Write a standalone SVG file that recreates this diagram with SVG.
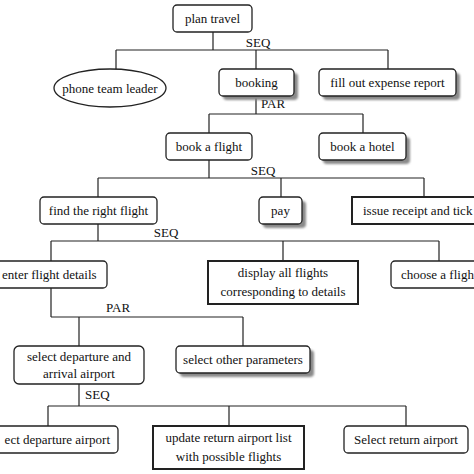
<svg xmlns="http://www.w3.org/2000/svg" width="474" height="474" viewBox="0 0 474 474" font-family="'Liberation Serif', 'Times New Roman', serif" font-size="13">
<defs>
<filter id="blur" x="-10%" y="-20%" width="130%" height="160%"><feGaussianBlur stdDeviation="1"/></filter>
<style>
text{font-family:'Liberation Serif','Times New Roman',serif;font-size:13px;fill:#111;}
.c{text-anchor:middle;}
.n{fill:#fff;stroke:#222;stroke-width:1.3;}
.sq{fill:#fff;stroke:#222;stroke-width:2;}
.sh{fill:#8a8a8a;filter:url(#blur);}
.ln{fill:none;stroke:#222;stroke-width:1.2;}
</style>
</defs>
<rect width="474" height="474" fill="#fff"/>
<g id="connectors">
<path class="ln" d="M213,32V50M116,50H388M116,50V69M256,50V69M388,50V69"/>
<path class="ln" d="M256,96V114M209,114H363M209,114V133M363,114V133"/>
<path class="ln" d="M209,160V178M98,178H424M98,178V197M281,178V197M424,178V197"/>
<path class="ln" d="M98,224V241M51,241H439M51,241V261M283,241V261M439,241V261"/>
<path class="ln" d="M51,288V317M51,317H243M79,317V346M243,317V346"/>
<path class="ln" d="M79,384V406M48,406H406M48,406V426M229,406V426M406,406V426"/>
</g>
<g id="labels">
<text class="c" x="258" y="47">SEQ</text>
<text x="261" y="108">PAR</text>
<text class="c" x="263" y="175">SEQ</text>
<text class="c" x="166" y="237">SEQ</text>
<text x="106" y="312">PAR</text>
<text x="85" y="399">SEQ</text>
</g>
<g id="plan-travel"><rect class="n" x="173" y="5" width="79" height="27" rx="4"/><text class="c" x="212.5" y="23">plan travel</text></g>
<g id="phone-team-leader"><ellipse class="n" cx="110" cy="88" rx="56" ry="19"/><text class="c" x="110" y="92.5">phone team leader</text></g>
<g id="booking"><rect class="sh" x="223" y="73" width="75" height="27" rx="4"/><rect class="n" x="219" y="69" width="75" height="27" rx="4"/><text class="c" x="256.5" y="87">booking</text></g>
<g id="fill-out-expense-report"><rect class="sh" x="323" y="73" width="137" height="27" rx="4"/><rect class="n" x="319" y="69" width="137" height="27" rx="4"/><text class="c" x="387.5" y="87">fill out expense report</text></g>
<g id="book-a-flight"><rect class="n" x="166" y="133" width="86" height="27" rx="4"/><text class="c" x="209" y="151">book a flight</text></g>
<g id="book-a-hotel"><rect class="sh" x="323" y="137" width="87" height="27" rx="4"/><rect class="n" x="319" y="133" width="87" height="27" rx="4"/><text class="c" x="362.5" y="151">book a hotel</text></g>
<g id="find-the-right-flight"><rect class="n" x="40" y="197" width="117" height="27" rx="4"/><text class="c" x="98.5" y="215">find the right flight</text></g>
<g id="pay"><rect class="sh" x="263" y="201" width="43" height="27" rx="4"/><rect class="n" x="259" y="197" width="43" height="27" rx="4"/><text class="c" x="280.5" y="215">pay</text></g>
<g id="issue-receipt"><rect class="sq" x="352" y="197" width="140" height="27"/><text x="363" y="215">issue receipt and tick</text></g>
<g id="enter-flight-details"><rect class="n" x="-8" y="261" width="115" height="27" rx="4"/><text x="2" y="279">enter flight details</text></g>
<g id="display-all-flights"><rect class="sq" x="208" y="261" width="150" height="43"/><text class="c" x="283" y="277">display all flights</text><text class="c" x="283" y="296">corresponding to details</text></g>
<g id="choose-a-flight"><rect class="n" x="391" y="261" width="110" height="27" rx="4"/><text x="401" y="279">choose a fligh</text></g>
<g id="select-departure-and-arrival"><rect class="n" x="14" y="346" width="130" height="38" rx="5"/><text class="c" x="79" y="361">select departure and</text><text class="c" x="79" y="378">arrival airport</text></g>
<g id="select-other-parameters"><rect class="sh" x="180" y="350" width="134" height="27" rx="4"/><rect class="n" x="176" y="346" width="134" height="27" rx="4"/><text class="c" x="243" y="364">select other parameters</text></g>
<g id="select-departure-airport"><rect class="n" x="-20" y="426" width="138" height="27" rx="4"/><text x="110" y="444" style="text-anchor:end">ect departure airport</text></g>
<g id="update-return-airport-list"><rect class="sq" x="153" y="426" width="151" height="43"/><text class="c" x="228.5" y="442">update return airport list</text><text class="c" x="228.5" y="461">with possible flights</text></g>
<g id="select-return-airport"><rect class="n" x="344" y="426" width="124" height="27" rx="4"/><text class="c" x="406" y="444">Select return airport</text></g>
</svg>
